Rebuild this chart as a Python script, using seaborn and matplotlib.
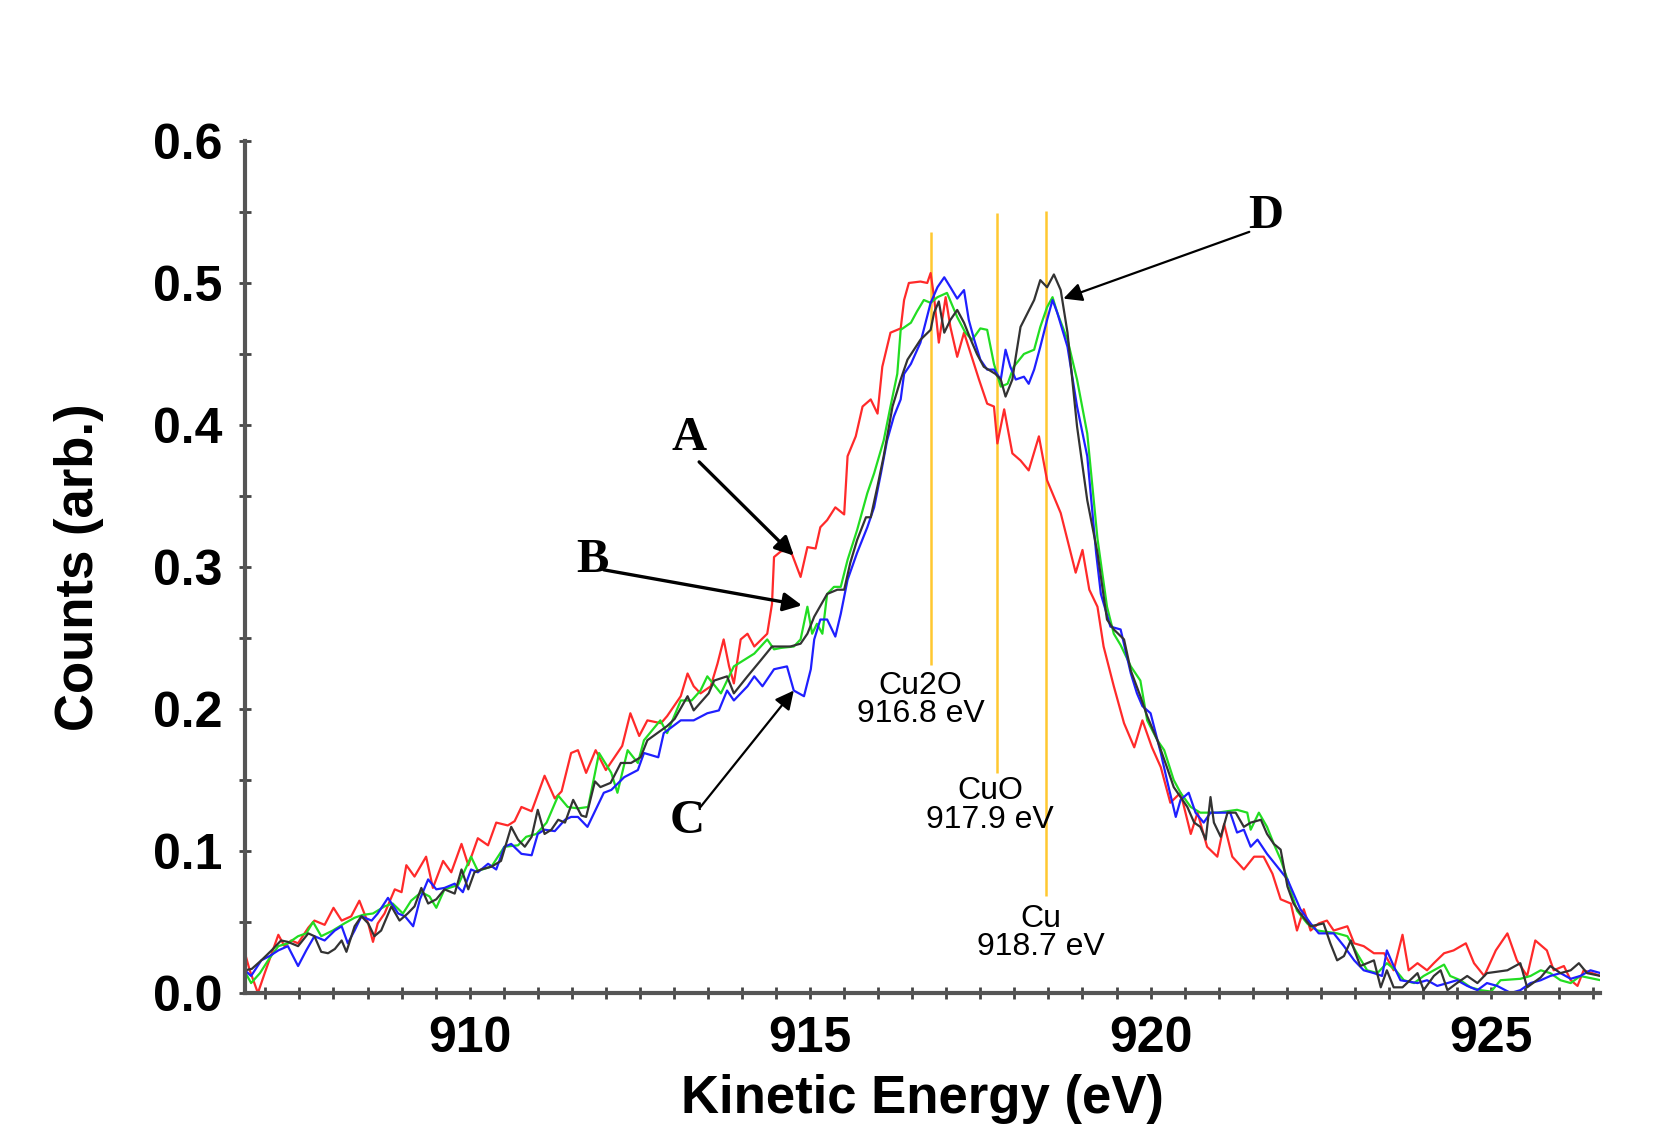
import numpy as np
import pandas as pd
import seaborn as sns
import matplotlib.pyplot as plt
from matplotlib.ticker import MultipleLocator

# curve A (red)
energy_a = [906.70, 906.77, 906.89, 906.99, 907.19, 907.28, 907.38, 907.48, 907.63, 907.72,
            907.87, 908.00, 908.12, 908.26, 908.38, 908.51, 908.58, 908.65, 908.75, 908.90,
            909.00, 909.07, 909.19, 909.36, 909.46, 909.61, 909.73, 909.88, 909.98, 910.12,
            910.27, 910.39, 910.56, 910.66, 910.76, 910.91, 911.10, 911.25, 911.35, 911.49,
            911.59, 911.71, 911.85, 912.00, 912.24, 912.36, 912.49, 912.61, 912.81, 912.90,
            913.10, 913.20, 913.29, 913.39, 913.54, 913.64, 913.73, 913.81, 913.88, 913.98,
            914.08, 914.18, 914.37, 914.44, 914.47, 914.57, 914.71, 914.86, 914.96, 915.08,
            915.15, 915.25, 915.37, 915.50, 915.55, 915.67, 915.77, 915.89, 915.99, 916.06,
            916.18, 916.33, 916.38, 916.45, 916.62, 916.72, 916.77, 916.82, 916.89, 916.99,
            917.06, 917.16, 917.26, 917.36, 917.48, 917.60, 917.70, 917.75, 917.85, 917.97,
            918.09, 918.21, 918.36, 918.48, 918.68, 918.78, 918.90, 919.00, 919.10, 919.22,
            919.31, 919.46, 919.61, 919.76, 919.88, 920.02, 920.15, 920.29, 920.44, 920.59,
            920.69, 920.83, 920.98, 921.08, 921.20, 921.37, 921.52, 921.66, 921.79, 921.91,
            922.06, 922.15, 922.25, 922.35, 922.47, 922.59, 922.69, 922.89, 922.99, 923.13,
            923.28, 923.43, 923.57, 923.70, 923.79, 923.92, 924.06, 924.16, 924.31, 924.45,
            924.63, 924.75, 924.90, 925.07, 925.24, 925.38, 925.53, 925.65, 925.82, 925.92,
            926.07, 926.17, 926.27, 926.36, 926.61]
counts_a = [0.028, 0.016, 0.000, 0.014, 0.041, 0.033, 0.037, 0.035, 0.046, 0.051,
            0.048, 0.060, 0.051, 0.054, 0.065, 0.049, 0.036, 0.049, 0.056, 0.073,
            0.071, 0.090, 0.082, 0.096, 0.074, 0.093, 0.085, 0.105, 0.090, 0.109,
            0.104, 0.120, 0.118, 0.121, 0.131, 0.128, 0.153, 0.137, 0.142, 0.169,
            0.171, 0.155, 0.171, 0.157, 0.174, 0.197, 0.181, 0.192, 0.190, 0.195,
            0.209, 0.225, 0.216, 0.211, 0.216, 0.232, 0.249, 0.230, 0.218, 0.249,
            0.253, 0.244, 0.253, 0.274, 0.307, 0.311, 0.312, 0.293, 0.314, 0.313,
            0.328, 0.333, 0.342, 0.337, 0.378, 0.392, 0.413, 0.418, 0.408, 0.441,
            0.465, 0.468, 0.488, 0.500, 0.501, 0.500, 0.507, 0.490, 0.458, 0.490,
            0.469, 0.448, 0.465, 0.450, 0.432, 0.415, 0.413, 0.387, 0.411, 0.380,
            0.375, 0.368, 0.392, 0.361, 0.338, 0.319, 0.296, 0.312, 0.284, 0.272,
            0.244, 0.216, 0.190, 0.173, 0.192, 0.173, 0.159, 0.134, 0.141, 0.112,
            0.127, 0.103, 0.096, 0.119, 0.096, 0.087, 0.096, 0.096, 0.084, 0.066,
            0.063, 0.044, 0.059, 0.044, 0.049, 0.051, 0.044, 0.047, 0.035, 0.033,
            0.028, 0.028, 0.016, 0.041, 0.016, 0.021, 0.016, 0.021, 0.028, 0.030,
            0.035, 0.021, 0.012, 0.030, 0.042, 0.023, 0.012, 0.037, 0.030, 0.016,
            0.019, 0.009, 0.005, 0.016, 0.012]

# curve B (green)
energy_b = [906.70, 906.79, 906.92, 907.04, 907.19, 907.33, 907.48, 907.60, 907.70, 907.82,
            907.99, 908.16, 908.31, 908.43, 908.58, 908.75, 908.87, 909.02, 909.14, 909.29,
            909.41, 909.51, 909.63, 909.83, 910.02, 910.12, 910.32, 910.51, 910.71, 910.83,
            910.98, 911.13, 911.30, 911.44, 911.59, 911.74, 911.90, 912.08, 912.17, 912.32,
            912.47, 912.56, 912.80, 912.90, 913.10, 913.26, 913.39, 913.49, 913.69, 913.88,
            914.18, 914.37, 914.47, 914.57, 914.76, 914.86, 914.96, 915.03, 915.10, 915.18,
            915.25, 915.35, 915.45, 915.55, 915.69, 915.84, 915.94, 916.08, 916.18, 916.28,
            916.33, 916.48, 916.57, 916.67, 916.77, 916.87, 917.01, 917.16, 917.28, 917.38,
            917.50, 917.60, 917.70, 917.80, 917.90, 917.99, 918.14, 918.29, 918.38, 918.48,
            918.56, 918.63, 918.78, 918.92, 919.07, 919.22, 919.36, 919.46, 919.56, 919.71,
            919.85, 919.95, 920.10, 920.20, 920.34, 920.44, 920.59, 920.73, 920.98, 921.27,
            921.42, 921.47, 921.59, 921.71, 921.81, 921.91, 922.01, 922.15, 922.30, 922.45,
            922.74, 922.89, 923.03, 923.18, 923.33, 923.47, 923.60, 923.72, 923.87, 924.01,
            924.16, 924.31, 924.40, 924.55, 924.70, 924.85, 925.00, 925.14, 925.43, 925.58,
            925.73, 925.87, 926.02, 926.17, 926.31, 926.61]
counts_b = [0.015, 0.007, 0.014, 0.023, 0.033, 0.035, 0.040, 0.042, 0.050, 0.040,
            0.044, 0.049, 0.053, 0.055, 0.056, 0.061, 0.063, 0.056, 0.065, 0.071,
            0.068, 0.060, 0.073, 0.076, 0.096, 0.086, 0.089, 0.103, 0.104, 0.110,
            0.112, 0.120, 0.139, 0.131, 0.130, 0.131, 0.169, 0.155, 0.141, 0.171,
            0.162, 0.178, 0.192, 0.183, 0.206, 0.206, 0.213, 0.223, 0.211, 0.230,
            0.239, 0.249, 0.242, 0.243, 0.244, 0.249, 0.272, 0.253, 0.260, 0.253,
            0.281, 0.286, 0.286, 0.305, 0.326, 0.352, 0.366, 0.389, 0.413, 0.436,
            0.467, 0.472, 0.480, 0.488, 0.486, 0.490, 0.493, 0.476, 0.465, 0.460,
            0.468, 0.467, 0.443, 0.427, 0.429, 0.441, 0.450, 0.453, 0.469, 0.483,
            0.490, 0.479, 0.460, 0.432, 0.394, 0.320, 0.272, 0.253, 0.245, 0.230,
            0.220, 0.192, 0.178, 0.171, 0.150, 0.141, 0.131, 0.127, 0.127, 0.129,
            0.127, 0.115, 0.127, 0.117, 0.105, 0.094, 0.080, 0.058, 0.049, 0.044,
            0.042, 0.040, 0.028, 0.016, 0.014, 0.021, 0.016, 0.009, 0.007, 0.012,
            0.016, 0.020, 0.012, 0.009, 0.004, 0.002, 0.001, 0.009, 0.010, 0.012,
            0.016, 0.014, 0.009, 0.007, 0.012, 0.009]

# curve C (blue)
energy_c = [906.70, 906.79, 906.94, 907.06, 907.19, 907.33, 907.48, 907.60, 907.72, 907.87,
            908.02, 908.12, 908.21, 908.31, 908.41, 908.56, 908.65, 908.80, 908.95, 909.05,
            909.17, 909.27, 909.39, 909.51, 909.63, 909.78, 909.90, 910.02, 910.12, 910.27,
            910.39, 910.51, 910.61, 910.76, 910.91, 911.00, 911.10, 911.25, 911.40, 911.49,
            911.59, 911.73, 911.97, 912.08, 912.27, 912.47, 912.56, 912.77, 912.85, 913.10,
            913.29, 913.49, 913.66, 913.78, 913.88, 914.08, 914.18, 914.30, 914.47, 914.66,
            914.76, 914.91, 915.01, 915.06, 915.15, 915.25, 915.37, 915.45, 915.55, 915.69,
            915.84, 915.94, 916.04, 916.13, 916.23, 916.33, 916.38, 916.48, 916.62, 916.77,
            916.87, 916.97, 917.06, 917.16, 917.26, 917.33, 917.41, 917.50, 917.60, 917.70,
            917.80, 917.87, 917.94, 918.02, 918.14, 918.21, 918.29, 918.38, 918.48, 918.56,
            918.63, 918.78, 918.92, 919.07, 919.20, 919.27, 919.41, 919.56, 919.71, 919.80,
            919.88, 920.00, 920.15, 920.24, 920.37, 920.44, 920.56, 920.66, 920.78, 920.88,
            921.17, 921.27, 921.37, 921.47, 921.57, 921.71, 921.86, 922.01, 922.10, 922.20,
            922.35, 922.47, 922.69, 922.84, 922.99, 923.13, 923.28, 923.40, 923.47, 923.57,
            923.67, 923.92, 924.06, 924.21, 924.36, 924.50, 924.65, 924.80, 924.94, 925.09,
            925.29, 925.43, 925.58, 925.73, 925.87, 926.02, 926.17, 926.31, 926.46, 926.61]
counts_c = [0.016, 0.012, 0.023, 0.026, 0.030, 0.033, 0.019, 0.030, 0.040, 0.037,
            0.044, 0.047, 0.035, 0.044, 0.054, 0.051, 0.056, 0.067, 0.056, 0.054,
            0.047, 0.066, 0.080, 0.073, 0.074, 0.077, 0.071, 0.087, 0.085, 0.091,
            0.087, 0.103, 0.105, 0.098, 0.097, 0.112, 0.115, 0.114, 0.122, 0.124,
            0.124, 0.117, 0.141, 0.143, 0.152, 0.157, 0.169, 0.166, 0.183, 0.192,
            0.192, 0.197, 0.199, 0.213, 0.206, 0.216, 0.223, 0.216, 0.228, 0.230,
            0.213, 0.209, 0.228, 0.249, 0.263, 0.263, 0.251, 0.267, 0.291, 0.310,
            0.328, 0.342, 0.366, 0.389, 0.406, 0.418, 0.436, 0.443, 0.458, 0.486,
            0.497, 0.504, 0.497, 0.489, 0.495, 0.474, 0.460, 0.446, 0.439, 0.439,
            0.432, 0.453, 0.441, 0.432, 0.434, 0.429, 0.439, 0.455, 0.474, 0.488,
            0.479, 0.455, 0.413, 0.378, 0.310, 0.281, 0.258, 0.256, 0.225, 0.211,
            0.202, 0.197, 0.169, 0.150, 0.124, 0.136, 0.141, 0.127, 0.120, 0.127,
            0.127, 0.113, 0.115, 0.103, 0.108, 0.098, 0.089, 0.080, 0.070, 0.059,
            0.049, 0.042, 0.042, 0.033, 0.023, 0.016, 0.014, 0.012, 0.030, 0.019,
            0.009, 0.007, 0.009, 0.005, 0.007, 0.009, 0.005, 0.002, 0.007, 0.005,
            0.000, 0.002, 0.007, 0.009, 0.012, 0.014, 0.010, 0.012, 0.016, 0.014]

# curve D (black)
energy_d = [906.70, 906.80, 906.94, 907.09, 907.23, 907.33, 907.48, 907.63, 907.72, 907.82,
            907.92, 908.02, 908.12, 908.19, 908.31, 908.41, 908.51, 908.60, 908.70, 908.85,
            908.97, 909.09, 909.19, 909.29, 909.39, 909.51, 909.63, 909.78, 909.88, 909.98,
            910.07, 910.17, 910.32, 910.46, 910.61, 910.71, 910.81, 910.91, 911.00, 911.10,
            911.20, 911.30, 911.40, 911.52, 911.64, 911.71, 911.84, 911.92, 912.07, 912.22,
            912.37, 912.51, 912.61, 912.90, 913.01, 913.20, 913.29, 913.51, 913.59, 913.78,
            913.88, 914.08, 914.27, 914.44, 914.71, 914.86, 914.96, 915.06, 915.25, 915.40,
            915.50, 915.59, 915.69, 915.82, 915.89, 915.99, 916.08, 916.21, 916.33, 916.43,
            916.62, 916.77, 916.82, 916.89, 916.97, 917.06, 917.16, 917.26, 917.36, 917.45,
            917.55, 917.72, 917.80, 917.87, 917.97, 918.02, 918.09, 918.29, 918.38, 918.48,
            918.58, 918.68, 918.78, 918.92, 919.07, 919.22, 919.36, 919.46, 919.61, 919.71,
            919.85, 919.95, 920.10, 920.24, 920.34, 920.44, 920.54, 920.64, 920.73, 920.81,
            920.88, 920.93, 921.03, 921.13, 921.25, 921.37, 921.47, 921.62, 921.71, 921.81,
            921.91, 922.01, 922.10, 922.20, 922.35, 922.54, 922.64, 922.74, 922.84, 922.94,
            923.08, 923.28, 923.38, 923.47, 923.57, 923.70, 923.92, 924.01, 924.16, 924.26,
            924.36, 924.50, 924.65, 924.80, 924.94, 925.24, 925.43, 925.53, 925.73, 925.87,
            926.02, 926.17, 926.29, 926.41, 926.61]
counts_d = [0.016, 0.017, 0.023, 0.030, 0.037, 0.036, 0.033, 0.042, 0.040, 0.029,
            0.028, 0.031, 0.037, 0.029, 0.047, 0.054, 0.049, 0.040, 0.044, 0.061,
            0.051, 0.056, 0.061, 0.074, 0.063, 0.066, 0.073, 0.070, 0.087, 0.073,
            0.085, 0.087, 0.089, 0.093, 0.117, 0.108, 0.103, 0.110, 0.129, 0.112,
            0.115, 0.122, 0.120, 0.136, 0.125, 0.124, 0.149, 0.145, 0.148, 0.162,
            0.162, 0.166, 0.178, 0.188, 0.193, 0.209, 0.199, 0.211, 0.220, 0.223,
            0.211, 0.223, 0.234, 0.244, 0.244, 0.246, 0.253, 0.265, 0.281, 0.284,
            0.284, 0.303, 0.319, 0.335, 0.335, 0.357, 0.378, 0.413, 0.432, 0.446,
            0.460, 0.467, 0.479, 0.487, 0.465, 0.474, 0.481, 0.472, 0.460, 0.450,
            0.441, 0.436, 0.432, 0.420, 0.432, 0.448, 0.469, 0.488, 0.502, 0.497,
            0.506, 0.495, 0.465, 0.399, 0.347, 0.310, 0.263, 0.256, 0.249, 0.227,
            0.209, 0.195, 0.178, 0.159, 0.145, 0.138, 0.131, 0.120, 0.117, 0.108,
            0.138, 0.120, 0.110, 0.127, 0.127, 0.117, 0.120, 0.122, 0.112, 0.105,
            0.101, 0.075, 0.063, 0.056, 0.047, 0.049, 0.035, 0.023, 0.026, 0.037,
            0.019, 0.023, 0.004, 0.016, 0.004, 0.004, 0.014, 0.002, 0.012, 0.016,
            0.002, 0.007, 0.012, 0.007, 0.014, 0.016, 0.021, 0.004, 0.011, 0.019,
            0.014, 0.016, 0.021, 0.014, 0.012]

# reference peak lines (as drawn) and their labels
ref_energy = [916.78, 917.75, 918.47]
ref_top = [0.536, 0.549, 0.551]
ref_bottom = [0.231, 0.155, 0.068]
ref_labels = ["Cu2O\n916.8 eV", "CuO\n917.9 eV", "Cu\n918.7 eV"]
ref_label_pos = [(916.62, 0.227), (917.64, 0.153), (918.39, 0.063)]

# curve letters: text position, arrow start, arrow tip
letters = ["A", "B", "C", "D"]
letter_pos = [(913.22, 0.391), (911.80, 0.305), (913.20, 0.121), (921.69, 0.547)]
arrow_start = [(913.37, 0.374), (911.97, 0.298), (913.39, 0.131), (921.45, 0.536)]
arrow_tip = [(914.76, 0.308), (914.88, 0.273), (914.76, 0.213), (918.72, 0.489)]
arrow_lw = [2.4, 2.4, 1.6, 1.6]

colors = {"A": "#ff2a2a", "B": "#22dd22", "C": "#1f1fff", "D": "#333333"}

df = pd.concat([
    pd.DataFrame({"energy": energy_a, "counts": counts_a, "sample": "A"}),
    pd.DataFrame({"energy": energy_b, "counts": counts_b, "sample": "B"}),
    pd.DataFrame({"energy": energy_c, "counts": counts_c, "sample": "C"}),
    pd.DataFrame({"energy": energy_d, "counts": counts_d, "sample": "D"}),
], ignore_index=True)

sns.set_style("white")
plt.rcParams["font.family"] = ["Liberation Sans", "DejaVu Sans"]
plt.rcParams["text.color"] = "black"
plt.rcParams["axes.labelcolor"] = "black"

fig = plt.figure(figsize=(16.71, 11.46), dpi=100)
ax = fig.add_axes([0.1466, 0.1335, 0.8109, 0.7435])

sns.lineplot(data=df, x="energy", y="counts", hue="sample", palette=colors,
             estimator=None, sort=False, linewidth=1.6, legend=False, ax=ax)

# peak position markers
ax.vlines(ref_energy, ref_bottom, ref_top, colors="#ffc830", linewidth=1.8, zorder=1)
for txt, (x, y) in zip(ref_labels, ref_label_pos):
    ax.text(x, y, txt, ha="center", va="top", fontsize=23, linespacing=0.95)

# curve labels with arrows
for lab, pos, st, tip, lw in zip(letters, letter_pos, arrow_start, arrow_tip, arrow_lw):
    ax.text(pos[0], pos[1], lab, ha="center", va="center", fontsize=35,
            fontweight="bold", family="Liberation Serif")
    ax.annotate("", xy=tip, xytext=st,
                arrowprops=dict(arrowstyle="-|>", color="black", lw=lw,
                                mutation_scale=28, shrinkA=0, shrinkB=0))

ax.set_xlim(906.7, 926.6)
ax.set_ylim(0, 0.6)
ax.xaxis.set_major_locator(MultipleLocator(5))
ax.xaxis.set_minor_locator(MultipleLocator(0.5))
ax.yaxis.set_major_locator(MultipleLocator(0.1))
ax.yaxis.set_minor_locator(MultipleLocator(0.05))
ax.yaxis.set_major_formatter(plt.FormatStrFormatter("%.1f"))

sns.despine(ax=ax)
for side in ["left", "bottom"]:
    ax.spines[side].set_linewidth(3)
    ax.spines[side].set_color("#555555")
ax.tick_params(which="both", bottom=True, left=True, direction="inout",
               length=9, width=2, color="#444444", labelcolor="black")
ax.tick_params(axis="x", which="major", labelsize=36, pad=12)
ax.tick_params(axis="y", which="major", labelsize=36, pad=12)
for lbl in ax.get_xticklabels() + ax.get_yticklabels():
    lbl.set_fontweight("bold")

ax.set_xlabel("Kinetic Energy (eV)", fontsize=38, fontweight="bold", labelpad=9)
ax.set_ylabel("Counts (arb.)", fontsize=38, fontweight="bold", labelpad=35)

fig.savefig("out.png", dpi=100)
